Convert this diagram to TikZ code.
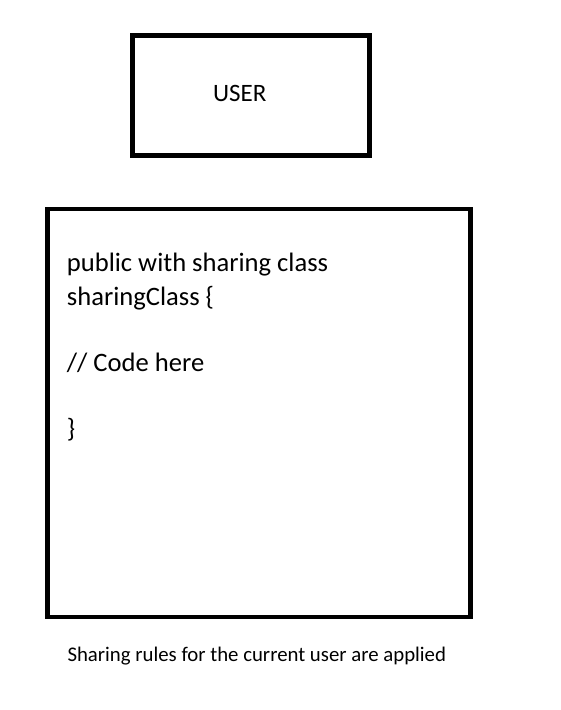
\documentclass[tikz,border=0pt]{standalone}
\usepackage{fontspec}
\setmainfont{Carlito}
\begin{document}
\begin{tikzpicture}[x=1pt,y=-1pt,
  frame/.style={draw=black,line width=4.6pt,fill=none,inner sep=0pt,minimum width=#1},
  codeline/.style={anchor=base west,inner sep=0pt,font=\fontsize{26.6}{33}\selectfont}]
\useasboundingbox[fill=white] (0,0) rectangle (560,710);
\node[frame=237.4pt,minimum height=120.4pt] (user) at (251,95.5) {};
\node[anchor=base,inner sep=0pt,font=\fontsize{25}{30}\selectfont] (usertext) at (239.7,101) {USER};
\node[frame=423pt,minimum height=408pt] (codebox) at (259,413) {};
\node[codeline] (l1) at (66.7,271.7) {public with sharing class};
\node[codeline] (l2) at (66.7,305) {sharingClass \{};
\node[codeline] (l3) at (66.7,371) {// Code here};
\node[codeline] (l4) at (66.7,437) {\}};
\node[anchor=base west,inner sep=0pt,font=\fontsize{20.8}{25}\selectfont] (caption) at (67.3,661.7) {Sharing rules for the current user are applied};
\end{tikzpicture}
\end{document}
